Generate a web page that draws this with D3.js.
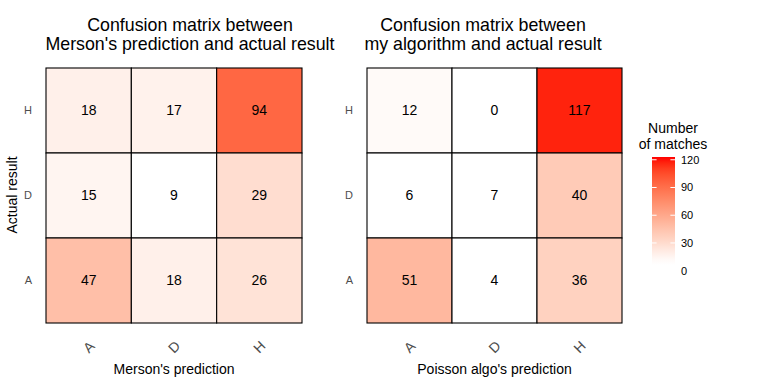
<!DOCTYPE html>
<html><head><meta charset="utf-8">
<script src="https://cdn.jsdelivr.net/npm/d3@7"></script>
<style>body{margin:0;background:#fff;font-family:"Liberation Sans",Arial,sans-serif;}</style>
</head><body><svg id="c" width="767" height="392"></svg>
<script>
const predCats = ["A","D","H"];
const actualCats = ["H","D","A"];
// rows: actual result; cols: prediction
const mersonValues = [
  {actual:"H", pred:"A", n:18},{actual:"H", pred:"D", n:17},{actual:"H", pred:"H", n:94},
  {actual:"D", pred:"A", n:15},{actual:"D", pred:"D", n:9},{actual:"D", pred:"H", n:29},
  {actual:"A", pred:"A", n:47},{actual:"A", pred:"D", n:18},{actual:"A", pred:"H", n:26}
];
const poissonValues = [
  {actual:"H", pred:"A", n:12},{actual:"H", pred:"D", n:0},{actual:"H", pred:"H", n:117},
  {actual:"D", pred:"A", n:6},{actual:"D", pred:"D", n:7},{actual:"D", pred:"H", n:40},
  {actual:"A", pred:"A", n:51},{actual:"A", pred:"D", n:4},{actual:"A", pred:"H", n:36}
];
const legendTicks = [0,30,60,90,120];
const titles = [["Confusion matrix between","Merson's prediction and actual result"],["Confusion matrix between","my algorithm and actual result"]];
const xTitles = ["Merson's prediction","Poisson algo's prediction"];

const svg = d3.select("#c");
const color = d3.scaleLinear().domain([9,121]).range(["#ffffff","#ff0000"]).interpolate(d3.interpolateLab).clamp(true);

const panels = [{x0:46,x1:302,tx:190,data:mersonValues},{x0:367,x1:622,tx:483,data:poissonValues}];
const y = d3.scaleBand().domain(actualCats).range([68,323]);

panels.forEach((p,i)=>{
  const x = d3.scaleBand().domain(predCats).range([p.x0,p.x1]);
  const g = svg.append("g");
  g.selectAll("rect").data(p.data).join("rect")
    .attr("x",d=>x(d.pred)).attr("y",d=>y(d.actual))
    .attr("width",x.bandwidth()).attr("height",y.bandwidth())
    .attr("fill",d=>color(d.n)).attr("stroke","#000").attr("stroke-width",1.1);
  g.selectAll("text.v").data(p.data).join("text").attr("class","v")
    .attr("x",d=>x(d.pred)+x.bandwidth()/2).attr("y",d=>y(d.actual)+y.bandwidth()/2)
    .attr("dy","0.35em").attr("text-anchor","middle").attr("font-size",14).attr("fill","#000")
    .text(d=>d.n);
  // x axis
  const xa = g.append("g").attr("transform",`translate(0,${323})`).call(d3.axisBottom(x).tickSize(0).tickPadding(0));
  xa.select(".domain").remove();
  xa.selectAll("text").attr("font-size",14).attr("fill","#4d4d4d")
    .attr("font-family","Liberation Sans, Arial, sans-serif")
    .attr("text-anchor","middle").attr("dy",null).attr("y",null)
    .attr("transform","translate(0,24) rotate(-45)").attr("dominant-baseline","central");
  // y axis
  const ya = g.append("g").attr("transform",`translate(${p.x0},0)`).call(d3.axisLeft(y).tickSize(0).tickPadding(14));
  ya.select(".domain").remove();
  ya.selectAll("text").attr("font-size",11).attr("fill","#4d4d4d").attr("font-family","Liberation Sans, Arial, sans-serif");
  // titles
  svg.append("text").attr("x",p.tx).attr("y",31).attr("text-anchor","middle").attr("font-size",17.8).text(titles[i][0]);
  svg.append("text").attr("x",p.tx).attr("y",50).attr("text-anchor","middle").attr("font-size",17.8).text(titles[i][1]);
  svg.append("text").attr("x",(p.x0+p.x1)/2).attr("y",374).attr("text-anchor","middle").attr("font-size",14).text(xTitles[i]);
});
svg.append("text").attr("transform","translate(17,195) rotate(-90)").attr("text-anchor","middle").attr("font-size",14).text("Actual result");

// legend
const defs = svg.append("defs");
const grad = defs.append("linearGradient").attr("id","lg").attr("x1",0).attr("y1",1).attr("x2",0).attr("y2",0);
d3.range(0,1.0001,0.05).forEach(t=>grad.append("stop").attr("offset",t).attr("stop-color",color(t*123)));
const ly = d3.scaleLinear().domain([0,123]).range([270.7,157]);
svg.append("rect").attr("x",652).attr("y",ly(123)).attr("width",23).attr("height",ly(0)-ly(123)).attr("fill","url(#lg)");
const lt = svg.append("g");
legendTicks.forEach(v=>{
  lt.append("line").attr("x1",652).attr("x2",656.6).attr("y1",ly(v)).attr("y2",ly(v)).attr("stroke","#fff");
  lt.append("line").attr("x1",670.4).attr("x2",675).attr("y1",ly(v)).attr("y2",ly(v)).attr("stroke","#fff");
  lt.append("text").attr("x",681).attr("y",ly(v)).attr("dy","0.35em").attr("font-size",11).text(v);
});
svg.append("text").attr("x",673).attr("y",133).attr("text-anchor","middle").attr("font-size",14).text("Number");
svg.append("text").attr("x",673).attr("y",149).attr("text-anchor","middle").attr("font-size",14).text("of matches");
</script></body></html>
